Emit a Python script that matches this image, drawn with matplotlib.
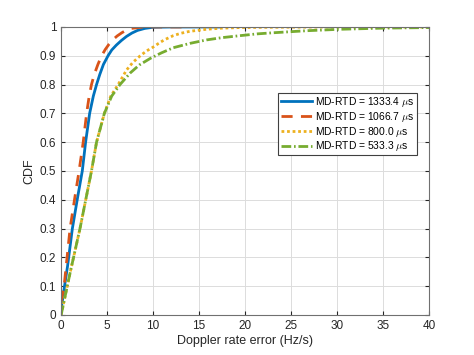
import matplotlib.pyplot as plt

plt.rcParams['font.family'] = ['Liberation Sans', 'DejaVu Sans']
plt.rcParams['mathtext.fontset'] = 'cm'

# curves (x in Hz/s, y = CDF)
x_1333 = [0, 0.36, 0.7, 1.22, 1.8, 2.3, 2.66, 3.1, 3.5, 3.85, 4.2, 4.6, 5.1, 5.5, 6.0, 6.55, 7.1, 7.7, 8.3, 9.1, 10.0, 12.0, 14.0, 17.3]
y_1333 = [0.02, 0.098, 0.17, 0.30, 0.41, 0.5, 0.6, 0.7, 0.76, 0.8, 0.835, 0.87, 0.9, 0.92, 0.937, 0.953, 0.967, 0.979, 0.988, 0.995, 0.999, 1.0, 1.0, 1.0]

x_1066 = [0, 0.32, 0.97, 1.5, 1.95, 2.4, 2.77, 3.05, 3.3, 3.6, 4.0, 4.4, 4.8, 5.2, 5.6, 6.1, 6.6, 7.1, 7.6, 9.0, 11.0, 14.0]
y_1066 = [0.046, 0.1, 0.3, 0.41, 0.5, 0.6, 0.7, 0.76, 0.8, 0.835, 0.87, 0.9, 0.922, 0.94, 0.955, 0.969, 0.98, 0.989, 0.995, 1.0, 1.0, 1.0]

x_800 = [0, 1.0, 2.05, 2.8, 3.3, 3.85, 4.7, 5.4, 6.2, 7.1, 7.8, 8.6, 9.3, 10.0, 10.6, 11.2, 12.2, 13.0, 14.0, 15.8, 17.5, 19.5, 23.0, 30.0, 40.0]
y_800 = [0, 0.15, 0.30, 0.42, 0.5, 0.6, 0.7, 0.76, 0.8, 0.85, 0.877, 0.9, 0.917, 0.93, 0.943, 0.955, 0.97, 0.978, 0.985, 0.992, 0.996, 0.998, 0.999, 1.0, 1.0]

x_533 = [0, 1.0, 2.05, 2.8, 3.3, 3.85, 4.7, 5.5, 6.4, 7.5, 8.5, 9.7, 10.9, 12.2, 14.0, 15.8, 17.5, 19.5, 21.3, 23.1, 26.7, 30.3, 35.0, 40.0]
y_533 = [0, 0.15, 0.30, 0.42, 0.5, 0.6, 0.7, 0.76, 0.8, 0.84, 0.868, 0.891, 0.91, 0.928, 0.943, 0.955, 0.963, 0.97, 0.976, 0.98, 0.987, 0.992, 0.996, 0.998]

labels = [r'MD-RTD = 1333.4 $\mu$s', r'MD-RTD = 1066.7 $\mu$s',
          r'MD-RTD = 800.0 $\mu$s', r'MD-RTD = 533.3 $\mu$s']

x_ticks = [0, 5, 10, 15, 20, 25, 30, 35, 40]
y_ticks = [0, 0.1, 0.2, 0.3, 0.4, 0.5, 0.6, 0.7, 0.8, 0.9, 1]
y_ticklabels = ['0', '0.1', '0.2', '0.3', '0.4', '0.5', '0.6', '0.7', '0.8', '0.9', '1']

fig = plt.figure(figsize=(4.74, 3.55), dpi=100)
ax = fig.add_axes([0.129, 0.113, 0.776, 0.811])

ax.plot(x_1333, y_1333, color='#0072BD', lw=2, ls='-', label=labels[0])
ax.plot(x_1066, y_1066, color='#D95319', lw=2, ls=(0, (4, 3)), label=labels[1])
ax.plot(x_800, y_800, color='#EDB120', lw=2, ls=(0, (1, 1)), label=labels[2])
ax.plot(x_533, y_533, color='#77AC30', lw=2, ls=(0, (3.5, 1, 0.6, 1)), label=labels[3])

ax.set_xlim(0, 40)
ax.set_ylim(0, 1)
ax.set_xticks(x_ticks)
ax.set_yticks(y_ticks)
ax.set_yticklabels(y_ticklabels)
ax.grid(True, color='#dcdcdc', lw=0.7)
ax.set_axisbelow(True)
ax.tick_params(direction='in', top=True, right=True, labelsize=8.5, colors='#262626', length=3)
for s in ax.spines.values():
    s.set_color('#707070')
    s.set_linewidth(0.8)

ax.set_xlabel('Doppler rate error (Hz/s)', fontsize=9, color='#262626', labelpad=2)
ax.set_ylabel('CDF', fontsize=9, color='#262626', labelpad=3)

leg = ax.legend(loc='upper right', bbox_to_anchor=(0.967, 0.771), fontsize=7.4,
                handlelength=3.1, handletextpad=0.3, borderpad=0.2, labelspacing=0.08,
                fancybox=False, framealpha=1, edgecolor='#404040', borderaxespad=0)
leg.get_frame().set_linewidth(0.8)

fig.savefig('out.png', dpi=100)
